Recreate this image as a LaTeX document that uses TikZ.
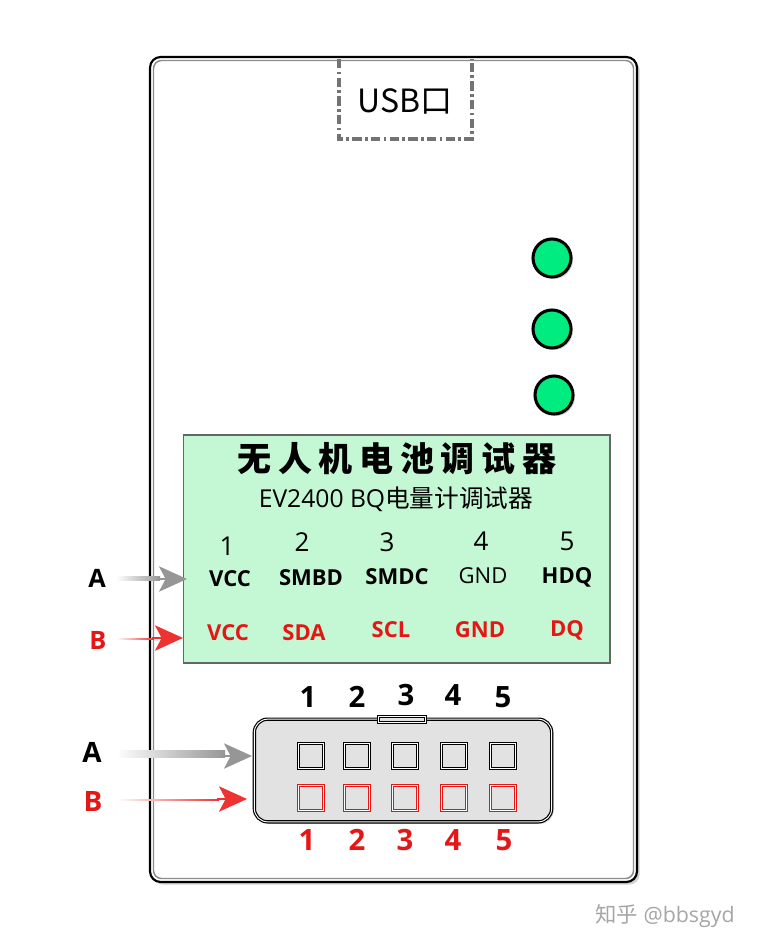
\documentclass[tikz,border=0pt]{standalone}
\usepackage{fontspec}
\setmainfont{Open Sans}
\newfontfamily\cjk{Noto Sans CJK SC}
\usetikzlibrary{shadows,arrows.meta,calc}
\definecolor{ledgreen}{RGB}{0,236,128}
\definecolor{panelgreen}{RGB}{196,247,212}
\definecolor{pinred}{RGB}{228,22,22}
\definecolor{arrred}{RGB}{238,50,50}
\definecolor{arrgray}{RGB}{150,150,150}
\definecolor{connfill}{RGB}{226,226,226}
\newcommand\tsp{\hspace{5pt}}
\begin{document}
\begin{tikzpicture}[x=0.75pt,y=-0.75pt,
  txt/.style={inner sep=0pt},
  pinnum/.style={txt,font=\fontsize{19.5}{21}\selectfont},
  sigA/.style={txt,font=\bfseries\fontsize{16.5}{18}\selectfont},
  sigB/.style={sigA,text=pinred},
  connnum/.style={txt,font=\bfseries\fontsize{22}{24}\selectfont},
  connnumB/.style={connnum,text=pinred},
  ablabel/.style={txt,font=\bfseries\fontsize{19}{21}\selectfont},
  pinA/.style={draw=black,double=white,line width=0.85pt,double distance=0.6pt,fill=connfill,minimum size=19pt,inner sep=0pt},
  pinB/.style={pinA,draw=pinred},
  led/.style={circle,draw=black,line width=2.3pt,fill=ledgreen,minimum size=28.5pt,inner sep=0pt,
    drop shadow={opacity=0.3,shadow xshift=1.5pt,shadow yshift=-1.5pt}},
  headA/.style={draw=arrgray,fill=arrgray,line width=1.5pt,-{Stealth[length=21pt,width=19pt,inset=5pt]}},
  headB/.style={draw=arrred,fill=arrred,line width=1.5pt,-{Stealth[length=21pt,width=19pt,inset=5pt]}}
]
\useasboundingbox[fill=white] (0,0) rectangle (760,952);

% outer housing
\draw[line width=1.6pt,rounded corners=8pt,fill=white,
  drop shadow={opacity=0.35,shadow xshift=2pt,shadow yshift=-2pt}]
  (150,57) rectangle (637,882);
\draw[line width=1.1pt,draw=black!45,rounded corners=6pt] (153.5,60.5) rectangle (633.5,878.5);

% USB port
\draw[line width=2.4pt,draw=black!55,dash pattern=on 7pt off 2.5pt on 2pt off 2.5pt]
  (339,59) -- (339,139) -- (472,139) -- (472,59);
\node[txt,font=\cjk\fontsize{24}{26}\selectfont] (usb) at (405,101) {USB口};

% LEDs
\node[led] (led1) at (552,258) {};
\node[led] (led2) at (552,329) {};
\node[led] (led3) at (554,395) {};

% label panel
\node[draw=black!60,line width=1pt,fill=panelgreen,minimum width=320pt,minimum height=171pt,inner sep=0pt] (panel) at (396.5,549) {};
\node[txt,font=\cjk\bfseries\fontsize{25.5}{27}\selectfont] (title) at (397,459)
  {无\tsp 人\tsp 机\tsp 电\tsp 池\tsp 调\tsp 试\tsp 器};
\node[txt,font=\fontsize{18.5}{20}\selectfont] (sub) at (396,499)
  {EV2400 BQ{\cjk 电量计调试器}};

\node[pinnum] (n1) at (227,546) {1};
\node[pinnum] (n2) at (302,542) {2};
\node[pinnum] (n3) at (387,542) {3};
\node[pinnum] (n4) at (481,541) {4};
\node[pinnum] (n5) at (567,541) {5};

\node[sigA] (a1) at (230,579) {VCC};
\node[sigA] (a2) at (311,578) {SMBD};
\node[sigA] (a3) at (397,577) {SMDC};
\node[txt,font=\fontsize{16.5}{18}\selectfont] (a4) at (483,576) {GND};
\node[sigA] (a5) at (567,577) {HDQ};

\node[sigB] (b1) at (228,633) {VCC};
\node[sigB] (b2) at (304,633) {SDA};
\node[sigB] (b3) at (391,630) {SCL};
\node[sigB] (b4) at (480,630) {GND};
\node[sigB] (b5) at (567,630) {DQ};

% panel arrows
\node[ablabel] (LA1) at (97,578) {A};
\node[ablabel,text=pinred] (LB1) at (98,640) {B};
\coordinate (tA1) at (187,579);
\coordinate (sA1) at (158,579);
\coordinate (tB1) at (183,638);
\coordinate (sB1) at (152,638);
\shade[left color=white,right color=arrgray] ($(LA1.east)+(10,-1.6)$) rectangle ($(sA1)+(2,1.6)$);
\draw[headA] (sA1) -- (tA1);
\shade[left color=white,right color=arrred] ($(LB1.east)+(10,-1.8)$) rectangle ($(sB1)+(2,1.8)$);
\draw[headB] (sB1) -- (tB1);

% connector
\node[draw=black,double=white,line width=0.9pt,double distance=0.7pt,fill=connfill,rounded corners=10pt,
  minimum width=223pt,minimum height=77pt,inner sep=0pt,
  drop shadow={opacity=0.3,shadow xshift=1.5pt,shadow yshift=-1.5pt}] (conn) at (403,770.5) {};
\node[draw=black,double=white,line width=0.7pt,double distance=0.8pt,fill=connfill,
  minimum width=35pt,minimum height=5pt,inner sep=0pt] (notch) at (402,719.5) {};

\foreach \x [count=\i] in {311,357,405,454,503}{
  \node[pinA] (pa\i) at (\x,756) {};
  \node[pinB] (pb\i) at (\x,798) {};
}
\foreach \x/\y [count=\i] in {308/697,357/697,406/695,453/695,503/697}{
  \node[connnum] (ct\i) at (\x,\y) {\i};
}
\foreach \x [count=\i] in {307,357,405,453,504}{
  \node[connnumB] (cb\i) at (\x,840) {\i};
}

% connector arrows
\node[ablabel,font=\bfseries\fontsize{21}{23}\selectfont] (LA2) at (92,752) {A};
\node[ablabel,font=\bfseries\fontsize{21}{23}\selectfont,text=pinred] (LB2) at (93,801) {B};
\coordinate (tA2) at (252,756);
\coordinate (sA2) at (223,756);
\coordinate (tB2) at (247,799);
\coordinate (sB2) at (217,799);
\shade[left color=white,right color=arrgray] ($(LA2.east)+(14,-1.6)$) rectangle ($(sA2)+(2,1.6)$);
\draw[headA] (sA2) -- (tA2);
\shade[left color=white,right color=arrred] ($(LB2.east)+(14,-1.8)$) rectangle ($(sB2)+(2,1.8)$);
\draw[headB] (sB2) -- (tB2);

% watermark
\node[txt,text=black!35,font=\fontsize{16}{18}\selectfont] (wm) at (665,916) {{\cjk 知乎} @bbsgyd};
\end{tikzpicture}
\end{document}
